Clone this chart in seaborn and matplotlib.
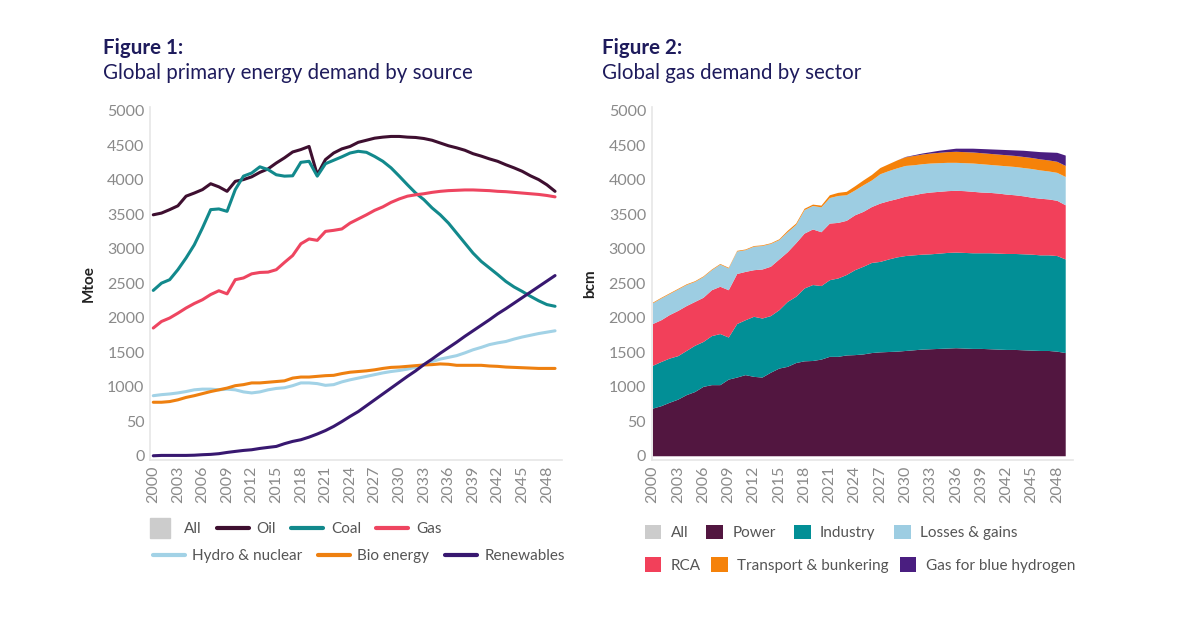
import numpy as np
import pandas as pd
import matplotlib.pyplot as plt
import seaborn as sns
from matplotlib.patches import Patch
from matplotlib.lines import Line2D

sns.set_style("white")
plt.rcParams['font.family'] = ['Lato', 'DejaVu Sans']

years = list(range(2000, 2050))

# Figure 1 - primary energy demand by source (Mtoe)
oil = [3490, 3515, 3565, 3620, 3760, 3805, 3855, 3940, 3895, 3830,
       3975, 4000, 4040, 4105, 4155, 4240, 4315, 4400, 4435, 4480,
       4070, 4290, 4385, 4445, 4480, 4540, 4570, 4600, 4615, 4625,
       4625, 4615, 4610, 4595, 4570, 4530, 4490, 4460, 4425, 4375,
       4340, 4300, 4265, 4215, 4170, 4120, 4055, 4000, 3925, 3830]
coal = [2395, 2500, 2550, 2695, 2865, 3055, 3300, 3565, 3575, 3540,
        3855, 4050, 4095, 4185, 4145, 4070, 4050, 4055, 4250, 4265,
        4050, 4230, 4280, 4330, 4385, 4410, 4395, 4335, 4265, 4170,
        4050, 3925, 3805, 3710, 3590, 3490, 3370, 3225, 3080, 2935,
        2815, 2720, 2625, 2525, 2445, 2380, 2310, 2245, 2190, 2165]
gas = [1850, 1945, 1995, 2065, 2140, 2205, 2260, 2335, 2390, 2345,
       2550, 2575, 2635, 2655, 2660, 2695, 2800, 2900, 3070, 3140,
       3120, 3250, 3265, 3285, 3370, 3430, 3490, 3555, 3605, 3670,
       3720, 3760, 3780, 3795, 3815, 3830, 3840, 3845, 3850, 3850,
       3845, 3840, 3830, 3825, 3815, 3805, 3795, 3785, 3770, 3750]
hydro_nuclear = [870, 885, 895, 910, 930, 955, 965, 965, 955, 965,
                 955, 925, 910, 925, 955, 975, 985, 1015, 1055, 1055,
                 1045, 1020, 1030, 1070, 1100, 1125, 1150, 1175, 1200, 1220,
                 1235, 1255, 1280, 1320, 1365, 1400, 1425, 1450, 1490, 1535,
                 1570, 1610, 1635, 1655, 1690, 1720, 1745, 1770, 1790, 1810]
bio_energy = [775, 775, 785, 810, 845, 870, 900, 930, 955, 980,
              1015, 1030, 1055, 1055, 1065, 1075, 1085, 1125, 1140, 1140,
              1150, 1160, 1165, 1190, 1210, 1220, 1230, 1245, 1265, 1280,
              1285, 1295, 1305, 1315, 1320, 1330, 1325, 1310, 1310, 1310,
              1310, 1300, 1295, 1285, 1280, 1275, 1270, 1265, 1265, 1265]
renewables = [0, 5, 5, 5, 5, 8, 15, 20, 30, 48,
              63, 77, 87, 106, 121, 135, 175, 208, 232, 270,
              315, 365, 425, 495, 570, 640, 725, 810, 895, 980,
              1065, 1150, 1230, 1320, 1400, 1485, 1565, 1645, 1730, 1810,
              1890, 1970, 2055, 2130, 2210, 2290, 2370, 2450, 2530, 2610]

# Figure 2 - gas demand by sector (bcm), stacked
power = [690, 725, 775, 820, 885, 930, 1005, 1030, 1030, 1110,
         1140, 1175, 1150, 1140, 1210, 1270, 1295, 1350, 1375, 1380,
         1400, 1440, 1440, 1460, 1465, 1475, 1495, 1505, 1510, 1515,
         1525, 1535, 1545, 1550, 1555, 1560, 1565, 1560, 1555, 1555,
         1550, 1545, 1540, 1540, 1535, 1530, 1525, 1525, 1515, 1495]
industry = [620, 640, 640, 630, 640, 670, 650, 710, 740, 610,
            775, 795, 870, 855, 820, 845, 940, 960, 1055, 1100,
            1065, 1110, 1135, 1165, 1230, 1270, 1305, 1310, 1340, 1365,
            1375, 1375, 1375, 1375, 1380, 1385, 1385, 1385, 1385, 1385,
            1390, 1390, 1390, 1390, 1390, 1390, 1385, 1385, 1385, 1355]
rca = [605, 605, 630, 655, 650, 635, 640, 665, 685, 685,
       725, 700, 675, 710, 715, 735, 720, 775, 795, 805,
       780, 820, 805, 785, 795, 795, 810, 845, 845, 845,
       860, 870, 885, 895, 895, 895, 895, 895, 890, 880,
       875, 870, 860, 850, 840, 825, 820, 810, 800, 785]
losses_gains = [300, 315, 305, 310, 305, 290, 300, 290, 320, 315,
                325, 315, 340, 340, 330, 280, 290, 265, 340, 340,
                360, 370, 390, 370, 360, 385, 385, 425, 435, 445,
                445, 435, 425, 420, 415, 410, 405, 405, 410, 410,
                405, 405, 410, 410, 410, 415, 410, 405, 405, 410]
transport = [10, 10, 10, 10, 10, 10, 10, 10, 10, 10,
             10, 10, 10, 10, 10, 12, 20, 20, 20, 20,
             25, 40, 45, 50, 60, 70, 80, 90, 100, 115,
             125, 135, 140, 145, 150, 155, 160, 160, 160, 160,
             160, 160, 160, 160, 160, 160, 160, 160, 160, 160]
blue_hydrogen = [0] * 30 + [5, 10, 15, 20, 30, 35, 45, 50, 55, 60,
                            65, 70, 75, 80, 90, 95, 105, 115, 130, 150]

y_ticks = list(range(0, 5001, 500))
y_tick_labels = ['0', '50', '1000', '1500', '2000', '2500', '3000',
                 '3500', '4000', '4500', '5000']
x_ticks = list(range(2000, 2049, 3))

sources = ['Oil', 'Coal', 'Gas', 'Hydro & nuclear', 'Bio energy', 'Renewables']
source_colors = ['#3e0f30', '#12898c', '#ee4560', '#a2d2e6', '#ee8010', '#381870']
sectors = ['Power', 'Industry', 'RCA', 'Losses & gains',
           'Transport & bunkering', 'Gas for blue hydrogen']
sector_colors = ['#521640', '#028f96', '#f2405a', '#9dcde2', '#f5820a', '#4a1e80']

navy = '#1e1b5c'
grey_txt = '#8a8a8a'

lines_df = pd.DataFrame({'year': years, 'Oil': oil, 'Coal': coal, 'Gas': gas,
                         'Hydro & nuclear': hydro_nuclear, 'Bio energy': bio_energy,
                         'Renewables': renewables})
long_df = lines_df.melt(id_vars='year', var_name='source', value_name='mtoe')

fig = plt.figure(figsize=(12, 6.3), dpi=100)
ax1 = fig.add_axes([0.125, 0.27, 0.343, 0.56])
ax2 = fig.add_axes([0.543, 0.27, 0.351, 0.56])

sns.lineplot(data=long_df, x='year', y='mtoe', hue='source', hue_order=sources,
             palette=dict(zip(sources, source_colors)), linewidth=2.2,
             legend=False, ax=ax1)
ax1.set_xlim(1999.6, 2049.8)

ax2.stackplot(years, power, industry, rca, losses_gains, transport, blue_hydrogen,
              colors=sector_colors, linewidth=0)
ax2.set_xlim(1999.9, 2049.9)

for ax, ylab in [(ax1, 'Mtoe'), (ax2, 'bcm')]:
    ax.set_ylim(-60, 5050)
    ax.set_yticks(y_ticks)
    ax.set_yticklabels(y_tick_labels)
    ax.set_xticks(x_ticks)
    ax.set_xticklabels([str(y) for y in x_ticks], rotation=90)
    ax.tick_params(axis='both', length=0, labelsize=11.5, labelcolor=grey_txt, pad=4)
    ax.set_xlabel('')
    ax.set_ylabel(ylab, fontsize=11, fontweight='bold', color='#222222', labelpad=8)
    sns.despine(ax=ax)
    for s in ['left', 'bottom']:
        ax.spines[s].set_color('#e6e6e6')
        ax.spines[s].set_linewidth(1.2)

# titles
fig.text(0.086, 0.915, 'Figure 1:', fontsize=14.8, fontweight='bold', color=navy)
fig.text(0.086, 0.875, 'Global primary energy demand by source', fontsize=14.8, color=navy)
fig.text(0.502, 0.915, 'Figure 2:', fontsize=14.8, fontweight='bold', color=navy)
fig.text(0.502, 0.875, 'Global gas demand by sector', fontsize=14.8, color=navy)

all_marker = Line2D([0], [0], marker='s', markersize=14, linestyle='none',
                    color='#cccccc', label='All')
line_handles = [Line2D([0], [0], color=c, lw=3, label=s)
                for s, c in zip(sources, source_colors)]
leg_kw = dict(frameon=False, fontsize=11, labelcolor='#555555', handlelength=2.1,
              handletextpad=0.5, columnspacing=1.0, borderaxespad=0, loc='center left')
l1 = fig.legend(handles=[all_marker] + line_handles[:3], ncol=4,
                bbox_to_anchor=(0.115, 0.16), **leg_kw)
l2 = fig.legend(handles=line_handles[3:], ncol=3,
                bbox_to_anchor=(0.122, 0.117), **leg_kw)

sq_kw = dict(frameon=False, fontsize=11, labelcolor='#555555', handlelength=1.1,
             handleheight=1.1, handletextpad=0.6, columnspacing=1.2,
             borderaxespad=0, loc='center left')
sector_handles = [Patch(facecolor=c, edgecolor='none', label=s)
                  for s, c in zip(sectors, sector_colors)]
all_patch = Patch(facecolor='#cccccc', edgecolor='none', label='All')
row1 = [all_patch, sector_handles[0], sector_handles[1], sector_handles[3]]
row2 = [sector_handles[2], sector_handles[4], sector_handles[5]]
l3 = fig.legend(handles=row1, ncol=4, bbox_to_anchor=(0.532, 0.155), **sq_kw)
sq_kw['columnspacing'] = 0.7
l4 = fig.legend(handles=row2, ncol=3, bbox_to_anchor=(0.532, 0.103), **sq_kw)

fig.savefig('out.png', dpi=100, facecolor='white')
